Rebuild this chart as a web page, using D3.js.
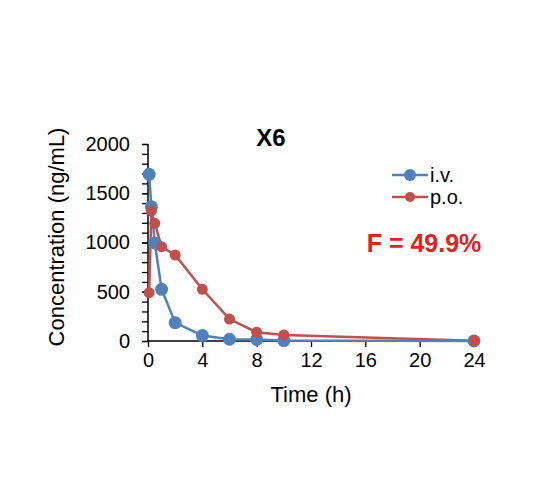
<!DOCTYPE html>
<html>
<head>
<meta charset="utf-8">
<script src="https://cdn.jsdelivr.net/npm/d3@7.9.0/dist/d3.min.js"></script>
<style>
  body { margin: 0; background: #fff; }
  svg { font-family: "Liberation Sans", Arial, sans-serif; }
  svg text { font-family: "Liberation Sans", Arial, sans-serif; }
</style>
</head>
<body>
<svg width="543" height="487"></svg>
<script>
const times = [0.083, 0.25, 0.5, 1, 2, 4, 6, 8, 10, 24];
const ivValues = [1692, 1363, 995, 525, 186, 55, 18, 15, 4, 1];
const poValues = [490, 1320, 1195, 957, 873, 525, 223, 88, 61, 3];
const xTicks = [0, 4, 8, 12, 16, 20, 24];
const yTicks = [0, 500, 1000, 1500, 2000];
const seriesNames = ['i.v.', 'p.o.'];
const seriesColors = ['#4f81bd', '#c0504d'];
const title = 'X6';
const fText = 'F = 49.9%';

const svg = d3.select('svg');
const x = d3.scaleLinear().domain([0, 24]).range([148, 474]);
const y = d3.scaleLinear().domain([0, 2000]).range([341, 144]);

// minor y ticks every 100
svg.append('g')
  .attr('transform', 'translate(148,0)')
  .call(d3.axisLeft(y).tickValues(d3.range(0, 2001, 100)).tickSize(6).tickFormat(''))
  .call(g => g.select('.domain').remove())
  .call(g => g.selectAll('line').attr('stroke', '#000').attr('stroke-width', 1.3));

const yAxis = svg.append('g')
  .attr('transform', 'translate(148,0)')
  .call(d3.axisLeft(y).tickValues(yTicks).tickSize(6).tickPadding(12).tickFormat(d3.format('d')));
yAxis.select('.domain').attr('stroke', '#000').attr('stroke-width', 1.5).attr('d', 'M0,144V341');
yAxis.selectAll('line').attr('stroke', '#000').attr('stroke-width', 1.3);
yAxis.attr('font-size', 20).attr('font-family', null);
yAxis.selectAll('text').attr('fill', '#000');

const xAxis = svg.append('g')
  .attr('transform', 'translate(0,341)')
  .call(d3.axisBottom(x).tickValues(xTicks).tickSize(6).tickPadding(6));
xAxis.select('.domain').attr('stroke', '#000').attr('stroke-width', 1.5).attr('d', 'M148,0H474');
xAxis.selectAll('line').attr('stroke', '#000').attr('stroke-width', 1.3);
xAxis.attr('font-size', 20).attr('font-family', null);
xAxis.selectAll('text').attr('fill', '#000');

const series = [ivValues, poValues];
const line = d3.line().x((d, i) => x(times[i])).y(d => y(d));

[1, 0].forEach(s => {
  svg.append('path')
    .datum(series[s])
    .attr('d', line)
    .attr('fill', 'none')
    .attr('stroke', seriesColors[s])
    .attr('stroke-width', 2.5);
});
[0, 1].forEach(s => {
  svg.append('g').selectAll('circle')
    .data(series[s])
    .join('circle')
    .attr('cx', (d, i) => x(times[i]))
    .attr('cy', d => y(d))
    .attr('r', s === 0 ? 6.5 : 5.5)
    .attr('fill', seriesColors[s]);
});

svg.append('text')
  .attr('x', 271).attr('y', 146)
  .attr('text-anchor', 'middle')
  .attr('font-size', 24).attr('font-weight', 'bold')
  .text(title);

svg.append('text')
  .attr('transform', 'translate(64,237) rotate(-90)')
  .attr('text-anchor', 'middle')
  .attr('font-size', 22)
  .text('Concentration (ng/mL)');

svg.append('text')
  .attr('x', 311).attr('y', 402)
  .attr('text-anchor', 'middle')
  .attr('font-size', 22)
  .text('Time (h)');

// legend
seriesNames.forEach((name, i) => {
  const ly = 175 + i * 22;
  svg.append('line')
    .attr('x1', 392).attr('x2', 428).attr('y1', ly).attr('y2', ly)
    .attr('stroke', seriesColors[i]).attr('stroke-width', 2.5);
  svg.append('circle')
    .attr('cx', 410).attr('cy', ly).attr('r', i === 0 ? 6 : 5)
    .attr('fill', seriesColors[i]);
  svg.append('text')
    .attr('x', 430).attr('y', ly + 7)
    .attr('font-size', 20)
    .text(name);
});

svg.append('text')
  .attr('x', 424).attr('y', 252)
  .attr('text-anchor', 'middle')
  .attr('font-size', 25).attr('font-weight', 'bold')
  .attr('fill', '#e02222')
  .text(fText);
</script>
</body>
</html>
